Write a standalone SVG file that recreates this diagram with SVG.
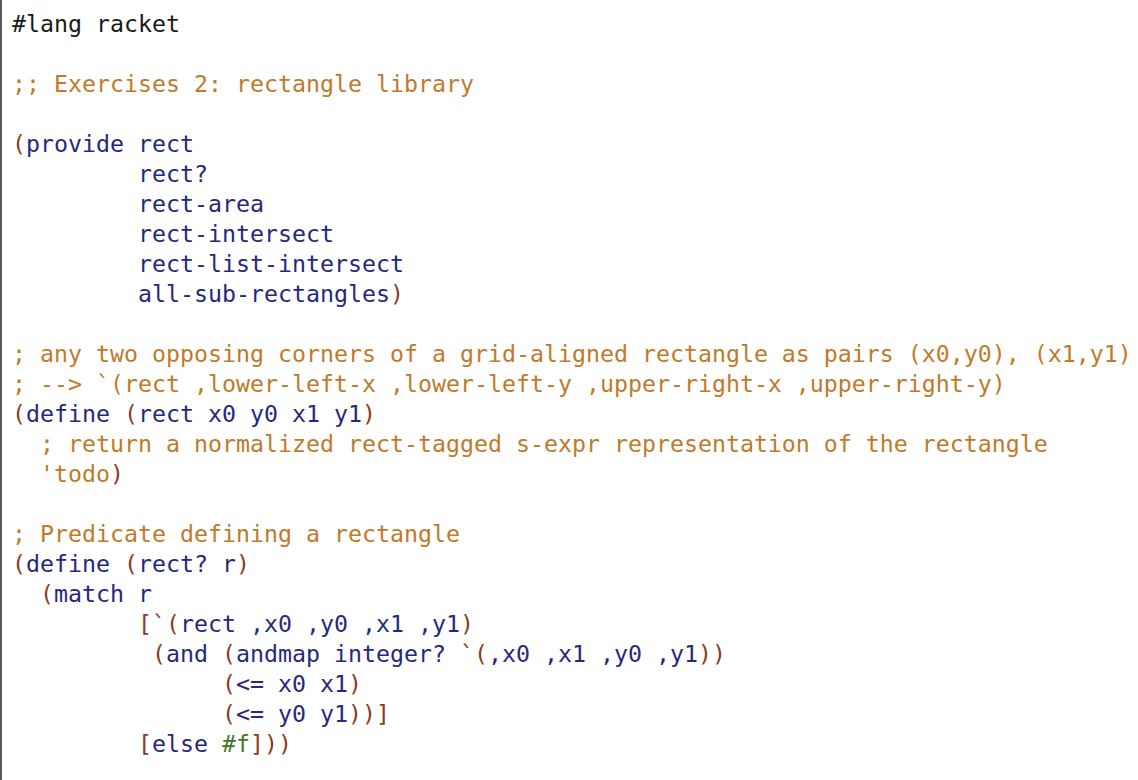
<svg xmlns="http://www.w3.org/2000/svg" width="1138" height="780" viewBox="0 0 1138 780">
<style>
text{font-family:"DejaVu Sans Mono","Liberation Mono",monospace;font-size:23.25px;white-space:pre;fill:#1a1a1a}
.p{fill:#8a3b24}.n{fill:#26287e}.c{fill:#c07a2a}.g{fill:#3d7a28}.k{fill:#1a1a1a}
</style>
<rect width="1138" height="780" fill="#ffffff"/>
<rect x="0" y="0" width="2" height="780" fill="#5a5a5a"/>
<g id="code" xml:space="preserve">
<text x="12" y="32">#lang racket</text>
<text x="12" y="92" class="c">;; Exercises 2: rectangle library</text>
<text x="12" y="152"><tspan class="p">(</tspan><tspan class="n">provide rect</tspan></text>
<text x="12" y="182" class="n">         rect?</text>
<text x="12" y="212" class="n">         rect-area</text>
<text x="12" y="242" class="n">         rect-intersect</text>
<text x="12" y="272" class="n">         rect-list-intersect</text>
<text x="12" y="302"><tspan class="n">         all-sub-rectangles</tspan><tspan class="p">)</tspan></text>
<text x="12" y="362" class="c">; any two opposing corners of a grid-aligned rectangle as pairs (x0,y0), (x1,y1)</text>
<text x="12" y="392" class="c">; --&gt; `(rect ,lower-left-x ,lower-left-y ,upper-right-x ,upper-right-y)</text>
<text x="12" y="422"><tspan class="p">(</tspan><tspan class="n">define </tspan><tspan class="p">(</tspan><tspan class="n">rect x0 y0 x1 y1</tspan><tspan class="p">)</tspan></text>
<text x="12" y="452" class="c">  ; return a normalized rect-tagged s-expr representation of the rectangle</text>
<text x="12" y="482"><tspan class="c">  'todo</tspan><tspan class="p">)</tspan></text>
<text x="12" y="542" class="c">; Predicate defining a rectangle</text>
<text x="12" y="572"><tspan class="p">(</tspan><tspan class="n">define </tspan><tspan class="p">(</tspan><tspan class="n">rect? r</tspan><tspan class="p">)</tspan></text>
<text x="12" y="602"><tspan>  </tspan><tspan class="p">(</tspan><tspan class="n">match r</tspan></text>
<text x="12" y="632"><tspan>         </tspan><tspan class="p">[`(</tspan><tspan class="n">rect ,x0 ,y0 ,x1 ,y1</tspan><tspan class="p">)</tspan></text>
<text x="12" y="662"><tspan>          </tspan><tspan class="p">(</tspan><tspan class="n">and </tspan><tspan class="p">(</tspan><tspan class="n">andmap integer? </tspan><tspan class="p">`(</tspan><tspan class="n">,x0 ,x1 ,y0 ,y1</tspan><tspan class="p">))</tspan></text>
<text x="12" y="692"><tspan>               </tspan><tspan class="p">(</tspan><tspan class="n">&lt;= x0 x1</tspan><tspan class="p">)</tspan></text>
<text x="12" y="722"><tspan>               </tspan><tspan class="p">(</tspan><tspan class="n">&lt;= y0 y1</tspan><tspan class="p">))]</tspan></text>
<text x="12" y="752"><tspan>         </tspan><tspan class="p">[</tspan><tspan class="n">else </tspan><tspan class="g">#f</tspan><tspan class="p">]))</tspan></text>
</g>
</svg>
